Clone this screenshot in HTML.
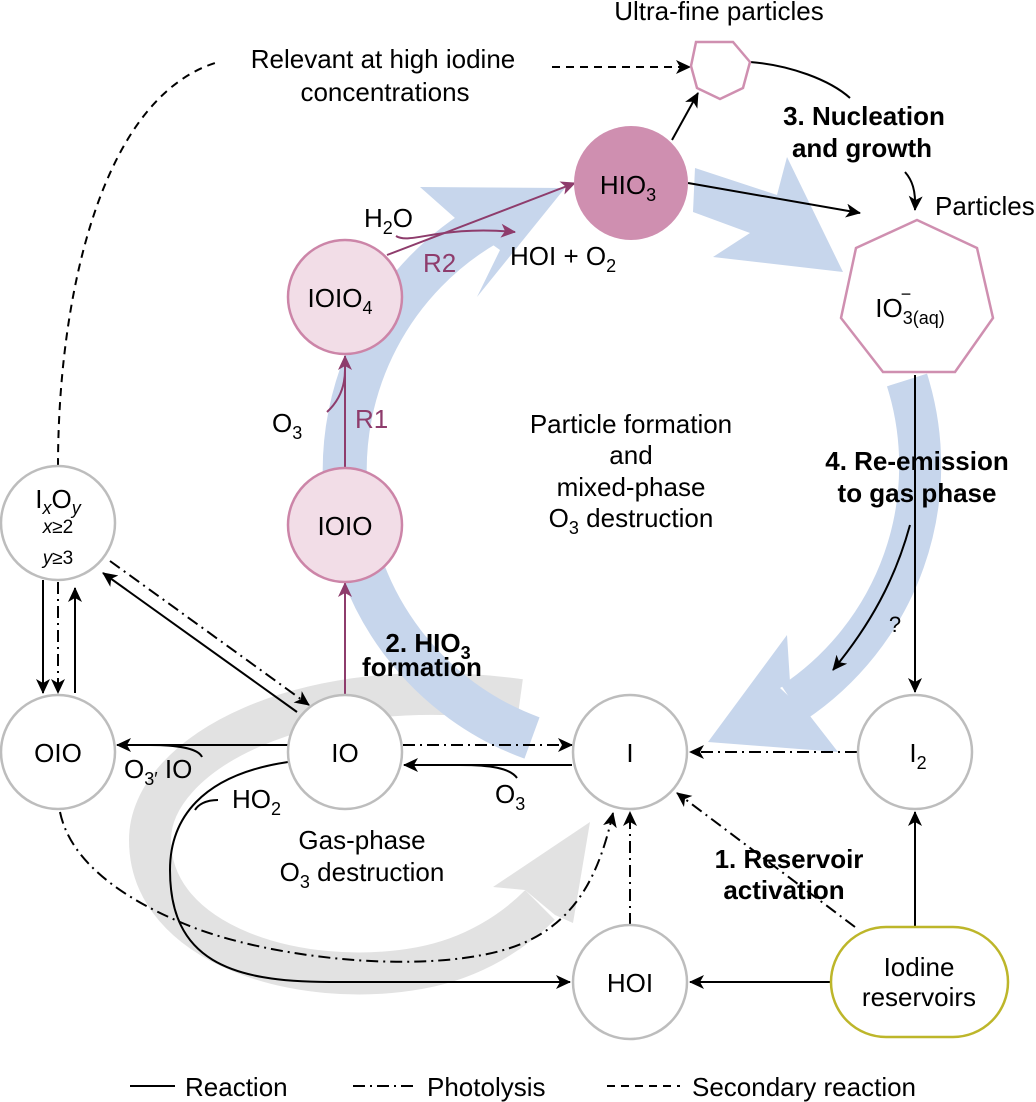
<!DOCTYPE html>
<html><head><meta charset="utf-8"><style>
html,body{margin:0;padding:0;background:#fff;}
svg{display:block;font-family:"Liberation Sans",sans-serif;}
.t{font-size:26px;fill:#000;}
.b{font-size:26px;font-weight:bold;fill:#000;}
.s{font-size:18px;}
</style></head><body>
<svg width="1036" height="1102" viewBox="0 0 1036 1102" xmlns="http://www.w3.org/2000/svg">
<defs>
<marker id="a" markerUnits="userSpaceOnUse" markerWidth="16" markerHeight="14" refX="14" refY="7" orient="auto"><path d="M0,0 L15,7 L0,14 L4,7 Z" fill="#000"/></marker>
<marker id="p" markerUnits="userSpaceOnUse" markerWidth="16" markerHeight="14" refX="14" refY="7" orient="auto"><path d="M0,0 L15,7 L0,14 L4,7 Z" fill="#8e3c6c"/></marker>
</defs>

<!-- gray band -->
<path d="M520 700 C300 670,150 755,150 840 C150 945,300 990,420 968 C475 958,515 930,540 905" fill="none" stroke="#e2e2e2" stroke-width="42"/>
<polygon points="493,887 590,822 573,923 555,915 525,890" fill="#e2e2e2"/>

<!-- blue band -->
<path d="M532 738 A285 285 0 0 1 488 223" fill="none" stroke="#c7d6ec" stroke-width="44"/>
<polygon points="420,187 565,188 477,297 500,250 455,218" fill="#c7d6ec"/>
<polygon points="695,168 777,195 787,157 843,272 713,257 750,233 693,212" fill="#c7d6ec"/>
<path d="M907 380 A285 285 0 0 1 793 703" fill="none" stroke="#c7d6ec" stroke-width="42"/>
<polygon points="787,635 790,682 780,688 810,716 838,752 708,742" fill="#c7d6ec"/>

<!-- lines -->
<g fill="none" stroke="#000" stroke-width="2">
<path d="M58 466 C58 300,100 100,215 63" stroke-dasharray="8,6"/>
<path d="M552 67 L690 67" stroke-dasharray="8,6" marker-end="url(#a)"/>
<path d="M672 140 L698 93" marker-end="url(#a)"/>
<path d="M750 62 C790 65,830 80,850 98"/>
<path d="M905 172 C912 180,916 190,915 210" marker-end="url(#a)"/>
<path d="M688 183 L860 213" marker-end="url(#a)"/>
<path d="M915 375 L915 692" marker-end="url(#a)"/>
<path d="M910 525 C895 580,870 625,833 670" marker-end="url(#a)"/>
<path d="M43 580 L43 693" marker-end="url(#a)"/>
<path d="M58 582 L58 693" stroke-dasharray="12,5,2,5" marker-end="url(#a)"/>
<path d="M75 693 L75 588" marker-end="url(#a)"/>
<path d="M297 712 L103 573" marker-end="url(#a)"/>
<path d="M110 561 L309 705" stroke-dasharray="12,5,2,5" marker-end="url(#a)"/>
<path d="M288 745 L117 745" marker-end="url(#a)"/>
<path d="M202 757 C198 748,175 745,150 745"/>
<path d="M403 745 L572 745" stroke-dasharray="12,5,2,5" marker-end="url(#a)"/>
<path d="M572 765 L404 765" marker-end="url(#a)"/>
<path d="M517 778 C510 768,490 765,460 765"/>
<path d="M857 752 L690 752" stroke-dasharray="12,5,2,5" marker-end="url(#a)"/>
<path d="M915 927 L915 812" marker-end="url(#a)"/>
<path d="M830 982 L690 982" marker-end="url(#a)"/>
<path d="M855 927 L677 793" stroke-dasharray="12,5,2,5" marker-end="url(#a)"/>
<path d="M630 925 L630 812" stroke-dasharray="12,5,2,5" marker-end="url(#a)"/>
<path d="M288 762 C200 775,170 820,170 870 C170 960,230 982,330 982 L570 982" marker-end="url(#a)"/>
<path d="M218 800 C205 800,198 805,195 810"/>
<path d="M60 812 C70 860,120 900,200 930 C300 965,460 975,530 940 C580 915,600 870,613 813" stroke-dasharray="12,5,2,5" marker-end="url(#a)"/>
</g>
<g fill="none" stroke="#8e3c6c" stroke-width="2">
<path d="M345 695 L345 583" marker-end="url(#p)"/>
<path d="M345 468 L345 356" marker-end="url(#p)"/>
<path d="M327 412 C340 400,345 385,345 370"/>
<path d="M387 255 L575 183" marker-end="url(#p)"/>
<path d="M396 236 C410 245,440 225,515 232" marker-end="url(#p)"/>
</g>

<!-- nodes -->
<g stroke="#bdbdbd" stroke-width="2.5" fill="#fff">
<circle cx="58" cy="523" r="57"/>
<circle cx="58" cy="752" r="57"/>
<circle cx="345" cy="752" r="57"/>
<circle cx="630" cy="752" r="57"/>
<circle cx="915" cy="752" r="57"/>
<circle cx="630" cy="982" r="57"/>
</g>
<circle cx="345" cy="525" r="57" fill="#f2dde7" stroke="#cc85a8" stroke-width="2.5"/>
<circle cx="345" cy="297" r="57" fill="#f2dde7" stroke="#cc85a8" stroke-width="2.5"/>
<circle cx="631" cy="183" r="57" fill="#cf8fb0"/>
<rect x="831" y="927" width="177" height="110" rx="55" fill="#fff" stroke="#bdb62a" stroke-width="2.5"/>
<polygon points="696,42 733,42 750,62 743,88 720,99 697,88 691,66" fill="#fff" stroke="#cf8fb0" stroke-width="2.5"/>
<polygon points="917,220 977,248 993,318 955,372 883,372 841,318 856,248" fill="#fff" stroke="#cf8fb0" stroke-width="2.5"/>

<!-- labels -->
<g class="t" text-anchor="middle">
<text x="58" y="508">I<tspan class="s" font-style="italic" dy="6">x</tspan><tspan dy="-6">O</tspan><tspan class="s" font-style="italic" dy="6">y</tspan></text>
<text x="58" y="533" font-size="19" font-style="italic">x<tspan font-style="normal">≥2</tspan></text>
<text x="58" y="564" font-size="19" font-style="italic">y<tspan font-style="normal">≥3</tspan></text>
<text x="58" y="762">OIO</text>
<text x="345" y="762">IO</text>
<text x="630" y="762">I</text>
<text x="918" y="762">I<tspan class="s" dy="7">2</tspan></text>
<text x="630" y="992">HOI</text>
<text x="919" y="976">Iodine</text>
<text x="919" y="1006">reservoirs</text>
<text x="345" y="535">IOIO</text>
<text x="340" y="307">IOIO<tspan class="s" dy="7">4</tspan></text>
<text x="628" y="194">HIO<tspan class="s" dy="7">3</tspan></text>
<text x="910" y="317">IO<tspan class="s" dy="7">3(aq)</tspan><tspan class="s" dx="-44" dy="-24">−</tspan></text>
<text x="719" y="20">Ultra-fine particles</text>
<text x="383" y="68">Relevant at high iodine</text>
<text x="385" y="101">concentrations</text>
<text x="631" y="433">Particle formation</text>
<text x="631" y="464">and</text>
<text x="631" y="496">mixed-phase</text>
<text x="631" y="527">O<tspan class="s" dy="7">3</tspan><tspan dy="-7"> destruction</tspan></text>
<text x="362" y="849">Gas-phase</text>
<text x="362" y="881">O<tspan class="s" dy="7">3</tspan><tspan dy="-7"> destruction</tspan></text>
<text x="895" y="632" font-size="22">?</text>
</g>
<g class="t">
<text x="510" y="265">HOI + O<tspan class="s" dy="7">2</tspan></text>
<text x="124" y="778">O<tspan class="s" dy="7">3′</tspan><tspan dy="-7"> IO</tspan></text>
<text x="232" y="808">HO<tspan class="s" dy="7">2</tspan></text>
<text x="495" y="803">O<tspan class="s" dy="7">3</tspan></text>
<text x="272" y="432">O<tspan class="s" dy="7">3</tspan></text>
<text x="364" y="227">H<tspan class="s" dy="7">2</tspan><tspan dy="-7">O</tspan></text>
<text x="423" y="272" fill="#8e3c6c">R2</text>
<text x="355" y="428" fill="#8e3c6c">R1</text>
<text x="935" y="215">Particles</text>
<text x="185" y="1096">Reaction</text>
<text x="427" y="1096">Photolysis</text>
<text x="692" y="1096">Secondary reaction</text>
</g>
<g class="b" text-anchor="middle">
<text x="864" y="125">3. Nucleation</text>
<text x="862" y="157">and growth</text>
<text x="917" y="470">4. Re-emission</text>
<text x="917" y="502">to gas phase</text>
<text x="789" y="868">1. Reservoir</text>
<text x="784" y="899">activation</text>
<text x="428" y="652">2. HIO<tspan font-size="18" dy="7">3</tspan></text>
<text x="422" y="676">formation</text>
</g>
<g stroke="#000" stroke-width="2">
<line x1="130" y1="1086" x2="175" y2="1086"/>
<line x1="353" y1="1086" x2="415" y2="1086" stroke-dasharray="12,5,2,5"/>
<line x1="607" y1="1086" x2="680" y2="1086" stroke-dasharray="8,6"/>
</g>
</svg>
</body></html>
